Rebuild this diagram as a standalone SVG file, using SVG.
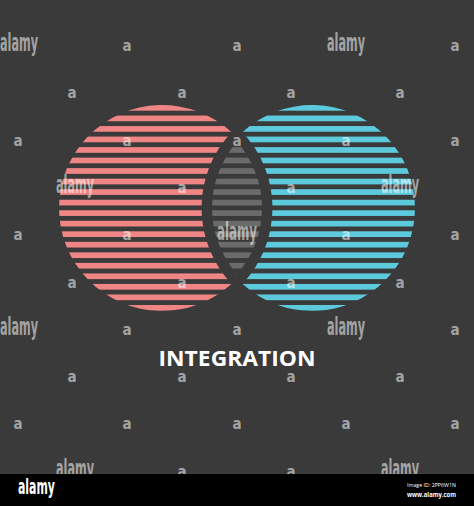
<svg xmlns="http://www.w3.org/2000/svg" xmlns:xlink="http://www.w3.org/1999/xlink" width="474" height="506" viewBox="0 0 474 506">
  <style>
    .title { font-family: "Open Sans", "Noto Sans", "Liberation Sans", sans-serif; font-weight: 700; font-size: 21px; fill: #ffffff; }
    .wm { font-family: "DejaVu Sans Condensed", "DejaVu Sans", "Liberation Sans", sans-serif; font-weight: 700; fill: #ffffff; fill-opacity: 0.55; text-anchor: middle; }
    .wm-a { font-size: 15px; }
    .wm-logo { font-size: 24px; }
    .bar-logo { font-family: "DejaVu Sans Condensed", "DejaVu Sans", sans-serif; font-weight: 700; font-size: 22px; fill: #ffffff; }
    .bar-small { font-family: "Open Sans", "Liberation Sans", sans-serif; fill: #ffffff; }
  </style>
  <defs>
    <g id="bands">
      <rect x="50" y="105.00" width="380" height="5.7"/>
      <rect x="50" y="115.53" width="380" height="5.7"/>
      <rect x="50" y="126.05" width="380" height="5.7"/>
      <rect x="50" y="136.58" width="380" height="5.7"/>
      <rect x="50" y="147.11" width="380" height="5.7"/>
      <rect x="50" y="157.63" width="380" height="5.7"/>
      <rect x="50" y="168.16" width="380" height="5.7"/>
      <rect x="50" y="178.68" width="380" height="5.7"/>
      <rect x="50" y="189.21" width="380" height="5.7"/>
      <rect x="50" y="199.74" width="380" height="5.7"/>
      <rect x="50" y="210.26" width="380" height="5.7"/>
      <rect x="50" y="220.79" width="380" height="5.7"/>
      <rect x="50" y="231.32" width="380" height="5.7"/>
      <rect x="50" y="241.84" width="380" height="5.7"/>
      <rect x="50" y="252.37" width="380" height="5.7"/>
      <rect x="50" y="262.89" width="380" height="5.7"/>
      <rect x="50" y="273.42" width="380" height="5.7"/>
      <rect x="50" y="283.95" width="380" height="5.7"/>
      <rect x="50" y="294.47" width="380" height="5.7"/>
      <rect x="50" y="305.00" width="380" height="5.7"/>
    </g>
    <clipPath id="clip-left">
      <path d="M231.66,132.13 A103,103 0 1 0 231.66,283.87 A110.5,110.5 0 0 1 231.66,132.13 Z"/>
    </clipPath>
    <clipPath id="clip-right">
      <path d="M242.34,132.13 A103,103 0 1 1 242.34,283.87 A110.5,110.5 0 0 0 242.34,132.13 Z"/>
    </clipPath>
    <clipPath id="clip-lens">
      <path d="M237,141.86 A100,100 0 0 1 237,274.14 A100,100 0 0 1 237,141.86 Z"/>
    </clipPath>
  </defs>

  <rect x="0" y="0" width="474" height="506" fill="#3a3a3a"/>

  <g id="circle-left">
    <use xlink:href="#bands" fill="#f08585" clip-path="url(#clip-left)"/>
  </g>
  <g id="circle-right">
    <use xlink:href="#bands" fill="#5ccadc" clip-path="url(#clip-right)"/>
  </g>
  <g id="intersection">
    <use xlink:href="#bands" fill="#6b6b6b" clip-path="url(#clip-lens)"/>
  </g>
  <g id="connectors"/>

  <g id="label">
    <text class="title" x="237" y="366" text-anchor="middle" textLength="157" lengthAdjust="spacingAndGlyphs">INTEGRATION</text>
  </g>

  <g id="watermarks">
    <text class="wm wm-logo" x="19" y="51" textLength="38" lengthAdjust="spacingAndGlyphs">alamy</text>
    <text class="wm wm-a" x="127" y="51">a</text>
    <text class="wm wm-a" x="237" y="51">a</text>
    <text class="wm wm-logo" x="346" y="51" textLength="38" lengthAdjust="spacingAndGlyphs">alamy</text>
    <text class="wm wm-a" x="455" y="51">a</text>

    <text class="wm wm-a" x="72" y="98.3">a</text>
    <text class="wm wm-a" x="182" y="98.3">a</text>
    <text class="wm wm-a" x="291" y="98.3">a</text>
    <text class="wm wm-a" x="400" y="98.3">a</text>

    <text class="wm wm-a" x="18" y="145.6">a</text>
    <text class="wm wm-a" x="127" y="145.6">a</text>
    <text class="wm wm-a" x="237" y="145.6">a</text>
    <text class="wm wm-a" x="346" y="145.6">a</text>
    <text class="wm wm-a" x="455" y="145.6">a</text>

    <text class="wm wm-logo" x="75" y="192.9" textLength="38" lengthAdjust="spacingAndGlyphs">alamy</text>
    <text class="wm wm-a" x="182" y="192.9">a</text>
    <text class="wm wm-a" x="291" y="192.9">a</text>
    <text class="wm wm-logo" x="400" y="192.9" textLength="38" lengthAdjust="spacingAndGlyphs">alamy</text>

    <text class="wm wm-a" x="18" y="240.2">a</text>
    <text class="wm wm-a" x="127" y="240.2">a</text>
    <text class="wm wm-logo" x="237" y="240.2" textLength="40" lengthAdjust="spacingAndGlyphs">alamy</text>
    <text class="wm wm-a" x="346" y="240.2">a</text>
    <text class="wm wm-a" x="455" y="240.2">a</text>

    <text class="wm wm-a" x="72" y="287.5">a</text>
    <text class="wm wm-a" x="182" y="287.5">a</text>
    <text class="wm wm-a" x="291" y="287.5">a</text>
    <text class="wm wm-a" x="400" y="287.5">a</text>

    <text class="wm wm-logo" x="19" y="334.8" textLength="38" lengthAdjust="spacingAndGlyphs">alamy</text>
    <text class="wm wm-a" x="127" y="334.8">a</text>
    <text class="wm wm-a" x="237" y="334.8">a</text>
    <text class="wm wm-logo" x="346" y="334.8" textLength="38" lengthAdjust="spacingAndGlyphs">alamy</text>
    <text class="wm wm-a" x="455" y="334.8">a</text>

    <text class="wm wm-a" x="72" y="382.1">a</text>
    <text class="wm wm-a" x="182" y="382.1">a</text>
    <text class="wm wm-a" x="291" y="382.1">a</text>
    <text class="wm wm-a" x="400" y="382.1">a</text>

    <text class="wm wm-a" x="18" y="429.4">a</text>
    <text class="wm wm-a" x="127" y="429.4">a</text>
    <text class="wm wm-a" x="237" y="429.4">a</text>
    <text class="wm wm-a" x="346" y="429.4">a</text>
    <text class="wm wm-a" x="455" y="429.4">a</text>

    <text class="wm wm-logo" x="75" y="476.7" textLength="38" lengthAdjust="spacingAndGlyphs">alamy</text>
    <text class="wm wm-a" x="182" y="476.7">a</text>
    <text class="wm wm-a" x="291" y="476.7">a</text>
    <text class="wm wm-logo" x="400" y="476.7" textLength="38" lengthAdjust="spacingAndGlyphs">alamy</text>
  </g>

  <g id="footer">
    <rect x="0" y="474" width="474" height="32" fill="#000000"/>
    <text class="bar-logo" x="18" y="494" textLength="37" lengthAdjust="spacingAndGlyphs">alamy</text>
    <text class="bar-small" x="407" y="487" font-size="5.5" textLength="49" lengthAdjust="spacingAndGlyphs">Image ID: 2PP6W1N</text>
    <text class="bar-small" x="407" y="496.5" font-size="7" font-weight="700" textLength="49" lengthAdjust="spacingAndGlyphs">www.alamy.com</text>
  </g>
</svg>
